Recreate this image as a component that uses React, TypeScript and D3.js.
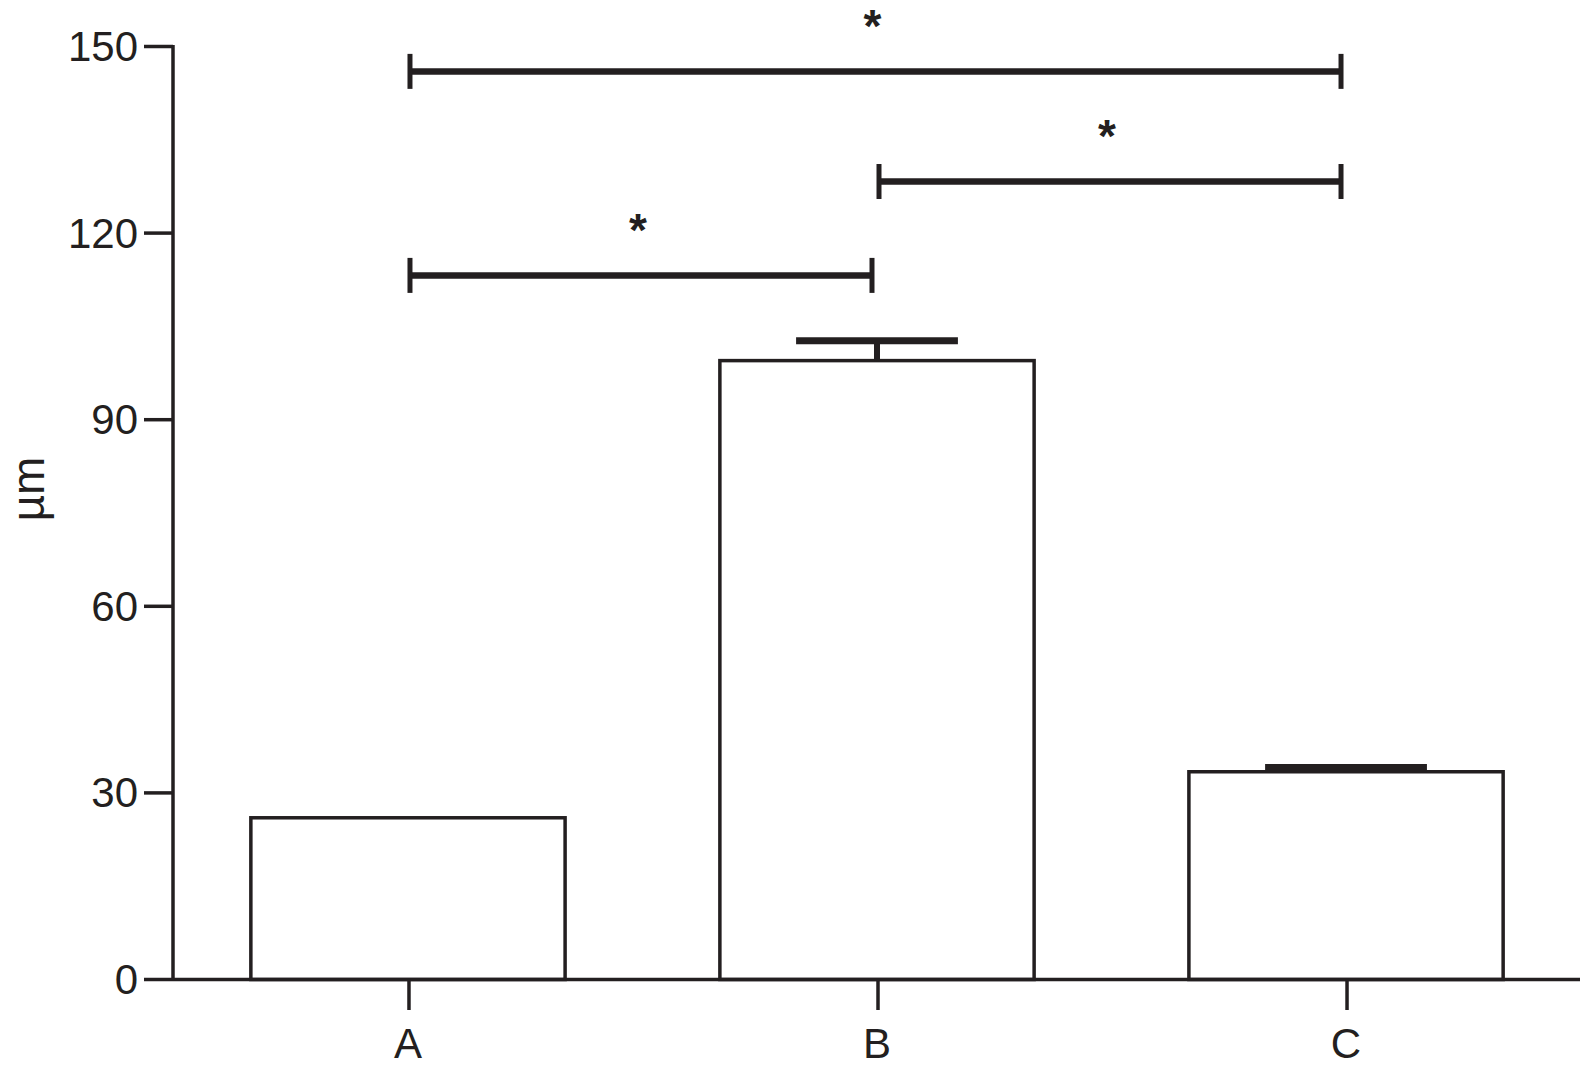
import React from "react";
import * as d3 from "d3";

const categories = ["A", "B", "C"];
const means = [26.0, 99.5, 33.4];
const errors = [0, 3.2, 0.7];
const yTicks = [0, 30, 60, 90, 120, 150];
const yLabel = "µm";
const comparisons: [string, string][] = [["A", "C"], ["B", "C"], ["A", "B"]];
const comparisonLevels = [146, 128.3, 113.2];
const comparisonMarks = ["*", "*", "*"];

const W = 1580;
const H = 1066;
const INK = "#231f20";
const FONT = "'Liberation Sans', Arial, Helvetica, sans-serif";

export default function App() {
  const x = d3
    .scaleBand<string>()
    .domain(categories)
    .range([173, 1581])
    .paddingInner(0.33)
    .paddingOuter(0.166);
  const y = d3.scaleLinear().domain([0, 150]).range([979.5, 46.5]);
  const bw = x.bandwidth();
  const cx = (c: string) => (x(c) as number) + bw / 2;
  const capW = bw * 0.515;

  return (
    <svg
      width={W}
      height={H}
      style={{ position: "absolute", left: 0, top: 0, background: "#fff" }}
      fontFamily={FONT}
    >
      <rect x={0} y={0} width={W} height={H} fill="#fff" />
      {/* bars */}
      {categories.map((c, i) => (
        <rect
          key={c}
          x={x(c)}
          y={y(means[i])}
          width={bw}
          height={y(0) - y(means[i])}
          fill="#fff"
          stroke={INK}
          strokeWidth={3.5}
        />
      ))}
      {/* error bars */}
      {categories.map((c, i) =>
        errors[i] > 0 ? (
          <g key={"e" + c} stroke={INK}>
            <line x1={cx(c)} x2={cx(c)} y1={y(means[i])} y2={y(means[i] + errors[i])} strokeWidth={6} />
            <line
              x1={cx(c) - capW / 2}
              x2={cx(c) + capW / 2}
              y1={y(means[i] + errors[i])}
              y2={y(means[i] + errors[i])}
              strokeWidth={7}
            />
          </g>
        ) : null
      )}
      {/* y axis */}
      <line x1={173} x2={173} y1={y(150) - 1.5} y2={y(0) + 1.5} stroke={INK} strokeWidth={3.5} />
      {yTicks.map((t) => (
        <g key={t}>
          <line x1={144} x2={173} y1={y(t)} y2={y(t)} stroke={INK} strokeWidth={3.5} />
          <text
            x={138}
            y={y(t)}
            textAnchor="end"
            dominantBaseline="central"
            fontSize={42}
            fill={INK}
          >
            {t}
          </text>
        </g>
      ))}
      {/* x axis */}
      <line x1={173} x2={W} y1={y(0)} y2={y(0)} stroke={INK} strokeWidth={3.5} />
      {categories.map((c) => (
        <g key={"t" + c}>
          <line x1={cx(c) + 1} x2={cx(c) + 1} y1={y(0)} y2={1010} stroke={INK} strokeWidth={3.5} />
          <text x={cx(c)} y={1058} textAnchor="middle" fontSize={42} fill={INK}>
            {c}
          </text>
        </g>
      ))}
      {/* y label */}
      <text
        transform={`translate(44, ${489}) rotate(-90)`}
        textAnchor="middle"
        fontSize={46}
        fill={INK}
      >
        {yLabel}
      </text>
      {/* comparison brackets */}
      {comparisons.map(([a, b], i) => {
        const x1 = cx(a) + 2;
        const x2 = cx(b) - 5;
        const yy = y(comparisonLevels[i]);
        return (
          <g key={"cmp" + i} stroke={INK}>
            <line x1={x1} x2={x2} y1={yy} y2={yy} strokeWidth={6.5} />
            <line x1={x1} x2={x1} y1={yy - 17.5} y2={yy + 17.5} strokeWidth={5} />
            <line x1={x2} x2={x2} y1={yy - 17.5} y2={yy + 17.5} strokeWidth={5} />
            <text
              x={(x1 + x2) / 2 - 3}
              y={yy - 56 + 27}
              textAnchor="middle"
              fontSize={46}
              fontWeight="bold"
              fill={INK}
              stroke="none"
            >
              {comparisonMarks[i]}
            </text>
          </g>
        );
      })}
    </svg>
  );
}
